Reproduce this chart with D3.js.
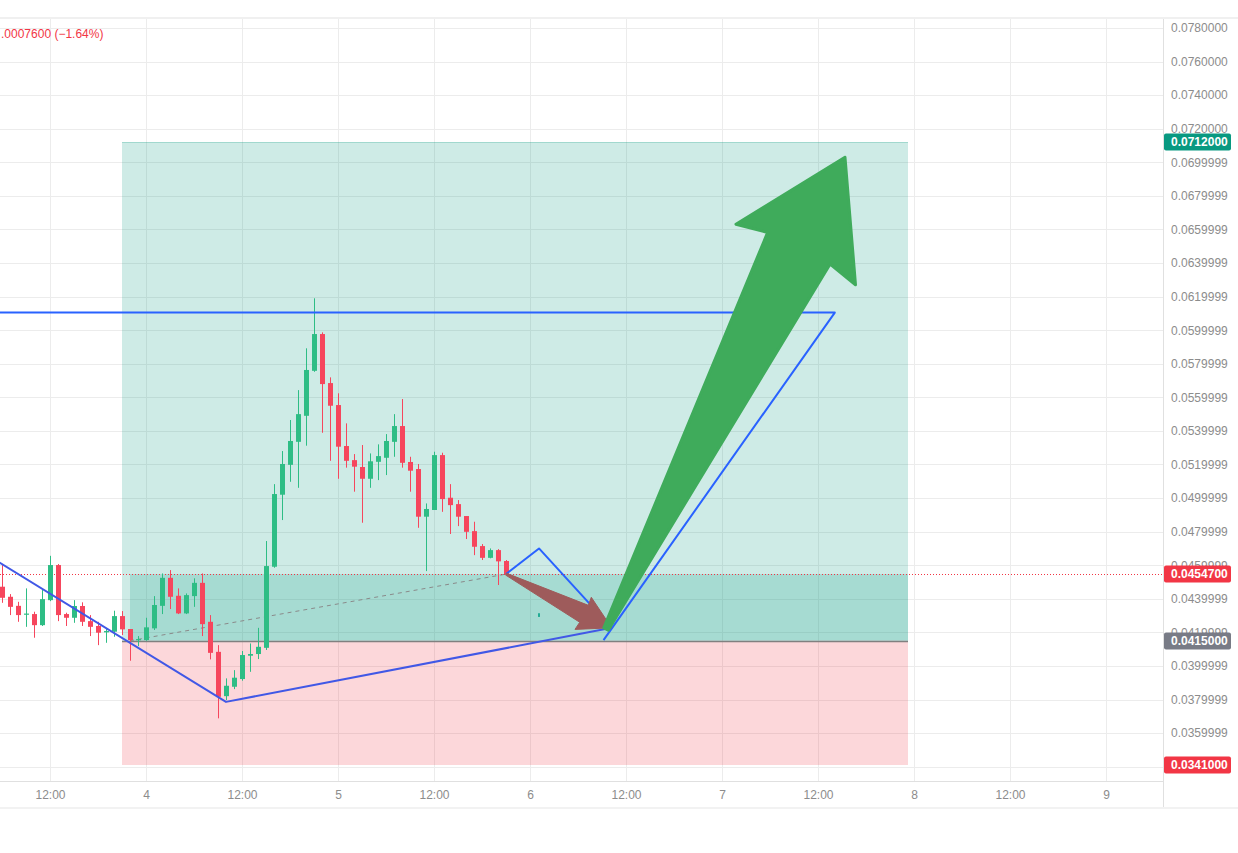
<!DOCTYPE html>
<html lang="en">
<head>
  <meta charset="UTF-8">
  <title>Hourly candles with long position setup</title>
  <script src="https://d3js.org/d3.v7.min.js"></script>
  <style>
    body {
      margin: 0;
      background: #fff;
      font-family: "Liberation Sans", Arial, sans-serif;
    }
    .axis text {
      fill: #8c8c8c;
      font-size: 12px;
      font-family: "Liberation Sans", Arial, sans-serif;
    }
    .axis path, .axis line {
      display: none;
    }
    .grid line {
      stroke: #ececec;
      stroke-width: 1;
    }
    .badge text {
      fill: #fff;
      font-weight: bold;
      font-size: 12px;
    }
  </style>
</head>
<body>

  <svg width="1238" height="853"></svg>

  <script>
    // hourly candles, first one at day 3 06:00 (hours counted from day 3 00:00)
    const firstHour = 6;
    const opens = [0.04472, 0.04412, 0.04358, 0.04306, 0.04309, 0.04243, 0.04392, 0.04601, 0.04309, 0.04287,
      0.04357, 0.04267, 0.04238, 0.04200, 0.04204, 0.04297, 0.04220, 0.04154, 0.04154, 0.04224,
      0.04358, 0.04525, 0.04418, 0.04313, 0.04416, 0.04495, 0.04263, 0.04084, 0.03820, 0.03876,
      0.03922, 0.04061, 0.04071, 0.04108, 0.04591, 0.05020, 0.05198, 0.05335, 0.05490, 0.05758,
      0.05977, 0.05685, 0.05554, 0.05310, 0.05226, 0.05185, 0.05115, 0.05216, 0.05240, 0.05335,
      0.05429, 0.05215, 0.05173, 0.04889, 0.04929, 0.05256, 0.05002, 0.04964, 0.04893, 0.04803,
      0.04714, 0.04644, 0.04690, 0.04625];
    const highs = [0.04601, 0.04428, 0.04382, 0.04462, 0.04323, 0.04452, 0.04656, 0.04607, 0.04317, 0.04392,
      0.04379, 0.04303, 0.04263, 0.04224, 0.04329, 0.04327, 0.04220, 0.04178, 0.04287, 0.04416,
      0.04551, 0.04571, 0.04462, 0.04432, 0.04522, 0.04551, 0.04303, 0.04124, 0.03926, 0.03975,
      0.04089, 0.04134, 0.04227, 0.04744, 0.05083, 0.05280, 0.05465, 0.05643, 0.05892, 0.06190,
      0.05987, 0.05719, 0.05624, 0.05445, 0.05262, 0.05316, 0.05266, 0.05320, 0.05381, 0.05500,
      0.05590, 0.05246, 0.05203, 0.04968, 0.05276, 0.05270, 0.05083, 0.04988, 0.04893, 0.04859,
      0.04726, 0.04700, 0.04696, 0.04631];
    const lows = [0.04376, 0.04303, 0.04263, 0.04233, 0.04168, 0.04238, 0.04386, 0.04267, 0.04238, 0.04257,
      0.04238, 0.04178, 0.04124, 0.04138, 0.04174, 0.04184, 0.04031, 0.04118, 0.04150, 0.04214,
      0.04309, 0.04339, 0.04309, 0.04309, 0.04352, 0.04178, 0.04039, 0.03688, 0.03797, 0.03862,
      0.03912, 0.03965, 0.04041, 0.04095, 0.04585, 0.04869, 0.05097, 0.05061, 0.05312, 0.05752,
      0.05389, 0.05222, 0.05115, 0.05181, 0.05038, 0.04853, 0.05061, 0.05107, 0.05137, 0.05246,
      0.05181, 0.05038, 0.04823, 0.04565, 0.04929, 0.04918, 0.04786, 0.04833, 0.04756, 0.04660,
      0.04631, 0.04641, 0.04482, 0.04545];
    const closes = [0.04406, 0.04352, 0.04303, 0.04312, 0.04243, 0.04398, 0.04601, 0.04303, 0.04287, 0.04357,
      0.04263, 0.04233, 0.04198, 0.04208, 0.04297, 0.04218, 0.04154, 0.04160, 0.04230, 0.04363,
      0.04525, 0.04412, 0.04313, 0.04422, 0.04495, 0.04249, 0.04078, 0.03816, 0.03882, 0.03930,
      0.04065, 0.04071, 0.04114, 0.04595, 0.05024, 0.05203, 0.05340, 0.05500, 0.05763, 0.05977,
      0.05679, 0.05550, 0.05306, 0.05222, 0.05187, 0.05115, 0.05219, 0.05250, 0.05340, 0.05429,
      0.05210, 0.05163, 0.04889, 0.04935, 0.05256, 0.04994, 0.04958, 0.04889, 0.04799, 0.04710,
      0.04644, 0.04690, 0.04623, 0.04547];

    // stray tick drawn after the last candle
    const strayHour = 73;
    const strayOpen = 0.04292, strayClose = 0.04314;

    const lastPrice = 0.04547;

    // long position tool
    const posStartHour = 21, posPnlHour = 22, posEndHour = 119.25;
    const entryPrice = 0.0415, targetPrice = 0.0712, stopPrice = 0.0341;

    // drawn lines, [hour, price]
    const blueTop = [[0, 0.06105], [110.1, 0.06105], [81.19, 0.04154]];
    const blueLow = [[4.5, 0.04651], [34, 0.03786], [82.21, 0.04227]];
    const blueBounce = [[69, 0.04547], [73.125, 0.04700], [82.21, 0.04227]];
    const redArrow = [[69, 0.04547], [82.21, 0.04227]];
    const greenArrow = [[81.5, 0.04220], [111.375, 0.07030]];

    const yTickValues = [0.078, 0.076, 0.074, 0.072, 0.070, 0.068, 0.066, 0.064, 0.062, 0.060, 0.058,
      0.056, 0.054, 0.052, 0.050, 0.048, 0.046, 0.044, 0.042, 0.040, 0.038, 0.036, 0.034];
    const yTickLabels = ["0.0780000", "0.0760000", "0.0740000", "0.0720000", "0.0699999", "0.0679999",
      "0.0659999", "0.0639999", "0.0619999", "0.0599999", "0.0579999", "0.0559999", "0.0539999",
      "0.0519999", "0.0499999", "0.0479999", "0.0459999", "0.0439999", "0.0419999", "0.0399999",
      "0.0379999", "0.0359999", "0.0339999"];

    const timeTickHours = [12, 24, 36, 48, 60, 72, 84, 96, 108, 120, 132, 144];
    const timeTickLabels = ["12:00", "4", "12:00", "5", "12:00", "6", "12:00", "7", "12:00", "8", "12:00", "9"];

    const badgeValues = [0.0712, 0.04547, 0.0415, 0.0341];
    const badgeLabels = ["0.0712000", "0.0454700", "0.0415000", "0.0341000"];
    const badgeColors = ["#089981", "#f23645", "#787b86", "#f23645"];

    const changeText = ".0007600 (\u22121.64%)";

    // layout
    const plotRight = 1163, plotTop = 19, plotBottom = 781, axisBottom = 808;
    const upColor = "#2ebd85", downColor = "#f6465d";

    const svg = d3.select("svg");
    const x = d3.scaleLinear().domain([5.75, 151.125]).range([0, plotRight]);
    const y = d3.scaleLinear().domain([0.0341, 0.078]).range([765, 28]);
    const crisp = v => Math.round(v) + 0.5;

    svg.append("defs").append("clipPath").attr("id", "plot")
      .append("rect").attr("x", 0).attr("y", plotTop).attr("width", plotRight).attr("height", plotBottom - plotTop);

    // frame lines
    svg.append("rect").attr("x", 0).attr("y", 17).attr("width", 1238).attr("height", 2).attr("fill", "#f0f0f0");
    svg.append("rect").attr("x", 0).attr("y", axisBottom - 1).attr("width", 1238).attr("height", 2).attr("fill", "#f2f2f2");

    // grid
    const grid = svg.append("g").attr("class", "grid");
    grid.selectAll(".hg").data(yTickValues).enter().append("line")
      .attr("x1", 0).attr("x2", plotRight)
      .attr("y1", d => crisp(y(d))).attr("y2", d => crisp(y(d)));
    grid.selectAll(".vg").data(timeTickHours).enter().append("line")
      .attr("y1", plotTop).attr("y2", plotBottom)
      .attr("x1", d => crisp(x(d))).attr("x2", d => crisp(x(d)));

    svg.append("line").attr("x1", 0).attr("x2", plotRight).attr("y1", plotBottom + 0.5).attr("y2", plotBottom + 0.5)
      .attr("stroke", "#e0e0e0");
    svg.append("line").attr("x1", plotRight + 0.5).attr("x2", plotRight + 0.5).attr("y1", plotTop).attr("y2", axisBottom - 1)
      .attr("stroke", "#e0e0e0");

    const plot = svg.append("g").attr("clip-path", "url(#plot)");

    // position tool
    plot.append("rect")
      .attr("x", x(posStartHour)).attr("width", x(posEndHour) - x(posStartHour))
      .attr("y", y(targetPrice)).attr("height", y(entryPrice) - y(targetPrice))
      .attr("fill", "rgba(8,153,129,0.2)");
    plot.append("rect")
      .attr("x", x(posStartHour)).attr("width", x(posEndHour) - x(posStartHour))
      .attr("y", y(entryPrice)).attr("height", y(stopPrice) - y(entryPrice))
      .attr("fill", "rgba(242,54,69,0.2)");
    plot.append("rect")
      .attr("x", x(posPnlHour)).attr("width", x(posEndHour) - x(posPnlHour))
      .attr("y", y(lastPrice)).attr("height", y(entryPrice) - y(lastPrice))
      .attr("fill", "rgba(8,153,129,0.2)");
    plot.append("line")
      .attr("x1", x(posStartHour)).attr("x2", x(posEndHour))
      .attr("y1", crisp(y(targetPrice))).attr("y2", crisp(y(targetPrice)))
      .attr("stroke", "rgba(8,153,129,0.25)");
    plot.append("line")
      .attr("x1", x(posStartHour)).attr("x2", x(posEndHour))
      .attr("y1", crisp(y(entryPrice))).attr("y2", crisp(y(entryPrice)))
      .attr("stroke", "#808080").attr("stroke-width", 1.5);
    plot.append("line")
      .attr("x1", x(posPnlHour)).attr("y1", y(entryPrice))
      .attr("x2", x(firstHour + closes.length - 1)).attr("y2", y(lastPrice))
      .attr("stroke", "#8a8a8a").attr("stroke-width", 1).attr("stroke-dasharray", "4,4");

    // last price line
    plot.append("line")
      .attr("x1", 0).attr("x2", plotRight)
      .attr("y1", crisp(y(lastPrice))).attr("y2", crisp(y(lastPrice)))
      .attr("stroke", "#f23645").attr("stroke-dasharray", "1,2");

    // candles
    const candles = opens.map((o, i) => ({ h: firstHour + i, o, hi: highs[i], lo: lows[i], c: closes[i] }));
    const cg = plot.append("g").selectAll("g").data(candles).enter().append("g")
      .attr("fill", d => d.c >= d.o ? upColor : downColor)
      .attr("stroke", d => d.c >= d.o ? upColor : downColor);
    cg.append("line")
      .attr("x1", d => Math.round(x(d.h)) + 0.5).attr("x2", d => Math.round(x(d.h)) + 0.5)
      .attr("y1", d => y(d.hi)).attr("y2", d => y(d.lo))
      .attr("stroke-width", 1);
    cg.append("rect")
      .attr("stroke", "none")
      .attr("x", d => Math.round(x(d.h)) - 2).attr("width", 5)
      .attr("y", d => y(Math.max(d.o, d.c)))
      .attr("height", d => Math.max(1.2, Math.abs(y(d.o) - y(d.c))));

    plot.append("rect")
      .attr("x", Math.round(x(strayHour))).attr("width", 2)
      .attr("y", y(strayClose)).attr("height", y(strayOpen) - y(strayClose))
      .attr("fill", "#22ab94");

    // drawn lines
    const line = d3.line().x(d => x(d[0])).y(d => y(d[1]));
    plot.append("path").attr("d", line(blueLow)).attr("fill", "none")
      .attr("stroke", "#4158e6").attr("stroke-width", 2).attr("stroke-linejoin", "round");
    plot.append("path").attr("d", line(blueBounce)).attr("fill", "none")
      .attr("stroke", "#2962ff").attr("stroke-width", 2).attr("stroke-linejoin", "round");
    plot.append("path").attr("d", line(blueTop)).attr("fill", "none")
      .attr("stroke", "#2962ff").attr("stroke-width", 2).attr("stroke-linejoin", "round");

    // arrows: tail to tip, shaft widens toward the head
    function arrowPath(pts, tailHalf, shaftHalf, innerBack, barbHalf, barbBack) {
      const t = [x(pts[0][0]), y(pts[0][1])], p = [x(pts[1][0]), y(pts[1][1])];
      const len = Math.hypot(p[0] - t[0], p[1] - t[1]);
      const u = [(p[0] - t[0]) / len, (p[1] - t[1]) / len], n = [-u[1], u[0]];
      const at = (back, side) => [p[0] - u[0] * back + n[0] * side, p[1] - u[1] * back + n[1] * side];
      const poly = [
        [t[0] + n[0] * tailHalf, t[1] + n[1] * tailHalf],
        at(innerBack, shaftHalf), at(barbBack, barbHalf), p,
        at(barbBack, -barbHalf), at(innerBack, -shaftHalf),
        [t[0] - n[0] * tailHalf, t[1] - n[1] * tailHalf]
      ];
      return "M" + poly.map(q => q.join(",")).join("L") + "Z";
    }
    plot.append("path").attr("d", arrowPath(redArrow, 1, 9.5, 31, 18, 32))
      .attr("fill", "#9e5b5b").attr("stroke", "#9e5b5b").attr("stroke-width", 1).attr("stroke-linejoin", "round");
    plot.append("path").attr("d", arrowPath(greenArrow, 2.5, 35, 102, 67, 109))
      .attr("fill", "#3fab5b").attr("stroke", "#3fab5b").attr("stroke-width", 3).attr("stroke-linejoin", "round");

    // axes
    svg.append("g").attr("class", "axis")
      .attr("transform", `translate(${plotRight},0)`)
      .call(d3.axisRight(y).tickValues(yTickValues).tickFormat((d, i) => yTickLabels[i]).tickSize(0).tickPadding(8));
    svg.append("g").attr("class", "axis")
      .attr("transform", `translate(0,${plotBottom})`)
      .call(d3.axisBottom(x).tickValues(timeTickHours).tickFormat((d, i) => timeTickLabels[i]).tickSize(0).tickPadding(9));

    // price badges
    const badge = svg.append("g").attr("class", "badge").selectAll("g").data(badgeValues).enter().append("g")
      .attr("transform", d => `translate(${plotRight + 1},${Math.round(y(d))})`);
    badge.append("rect")
      .attr("x", 0).attr("y", -8.5).attr("width", 67).attr("height", 17).attr("rx", 2)
      .attr("fill", (d, i) => badgeColors[i]);
    badge.append("text")
      .attr("x", 7).attr("dy", "0.35em")
      .text((d, i) => badgeLabels[i]);

    // change readout, top left
    svg.append("text")
      .attr("x", 1).attr("y", 38)
      .attr("fill", "#f23645").attr("font-size", 12)
      .text(changeText);
  </script>

</body>
</html>
